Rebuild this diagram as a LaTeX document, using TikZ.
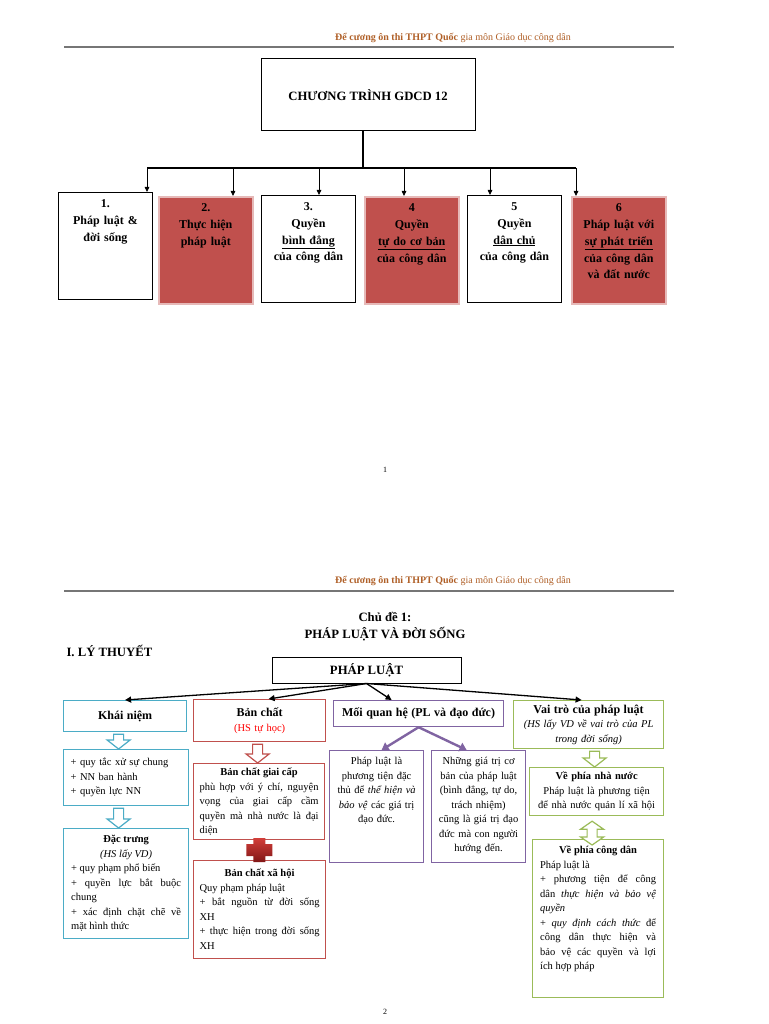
\documentclass[tikz,border=0pt]{standalone}
\usepackage{fontspec}
\setmainfont{Liberation Serif}
\usetikzlibrary{arrows.meta,calc}

\definecolor{headbrown}{RGB}{176,96,40}
\definecolor{boxred}{RGB}{192,80,77}
\definecolor{boxcyan}{RGB}{75,172,198}
\definecolor{boxpurple}{RGB}{128,100,162}
\definecolor{boxgreen}{RGB}{155,187,89}
\definecolor{rulegray}{RGB}{118,118,118}
\definecolor{crosslight}{RGB}{210,62,58}
\definecolor{crossdark}{RGB}{128,22,22}

\newcommand{\bodysize}{\fontsize{10.5}{14.5}\selectfont}
\newcommand{\titlesize}{\fontsize{12}{16.8}\selectfont\bfseries}
\newcommand{\pagetitlesize}{\fontsize{12.7}{16.8}\selectfont\bfseries}
\newcommand{\headersize}{\fontsize{10}{12}\selectfont}

\hyphenpenalty=10000
\exhyphenpenalty=10000
\tolerance=10000

% hollow block arrow pointing down, from one box to the next
\newcommand{\hollowdown}[4]{%
  \draw[#1, line width=1.2pt, fill=white]
    let \p1=(#2.south), \p2=(#3.north) in
    ({\x1+(#4)-5pt},{\y1-2pt}) -- ({\x1+(#4)+5pt},{\y1-2pt})
    -- ({\x1+(#4)+5pt},{\y2+9pt}) -- ({\x1+(#4)+11.5pt},{\y2+9pt})
    -- ({\x1+(#4)},{\y2}) -- ({\x1+(#4)-11.5pt},{\y2+9pt})
    -- ({\x1+(#4)-5pt},{\y2+9pt}) -- cycle;}

% hollow block arrow with two heads
\newcommand{\hollowboth}[4]{%
  \draw[#1, line width=1.2pt, fill=white]
    let \p1=(#2.south), \p2=(#3.north) in
    ({\x1+(#4)},{\y1-5pt}) -- ({\x1+(#4)+11.5pt},{\y1-13pt})
    -- ({\x1+(#4)+5pt},{\y1-13pt}) -- ({\x1+(#4)+5pt},{\y2+2pt})
    -- ({\x1+(#4)+11.5pt},{\y2+2pt}) -- ({\x1+(#4)},{\y2-6pt})
    -- ({\x1+(#4)-11.5pt},{\y2+2pt}) -- ({\x1+(#4)-5pt},{\y2+2pt})
    -- ({\x1+(#4)-5pt},{\y1-13pt}) -- ({\x1+(#4)-11.5pt},{\y1-13pt}) -- cycle;}

% plus sign between two boxes
\newcommand{\redcross}[2]{%
  \path[top color=crosslight, bottom color=crossdark]
    let \p1=($(#1.south)!0.5!(#2.north)$) in
    ({\x1-6pt},{\y1+12pt}) -- ({\x1+6pt},{\y1+12pt}) -- ({\x1+6pt},{\y1+6pt})
    -- ({\x1+13pt},{\y1+6pt}) -- ({\x1+13pt},{\y1-6pt}) -- ({\x1+6pt},{\y1-6pt})
    -- ({\x1+6pt},{\y1-12pt}) -- ({\x1-6pt},{\y1-12pt}) -- ({\x1-6pt},{\y1-6pt})
    -- ({\x1-13pt},{\y1-6pt}) -- ({\x1-13pt},{\y1+6pt}) -- ({\x1-6pt},{\y1+6pt}) -- cycle;}

\begin{document}
\begin{tikzpicture}[x=1pt, y=-1pt,
    header/.style={text=headbrown, font=\headersize, inner sep=0pt},
    pagebox/.style={draw, line width=0.9pt, anchor=north west, text width=86pt,
      inner xsep=4pt, inner ysep=5pt, align=center, font=\titlesize,
      text height=10pt, text depth=87pt},
    redbox/.style={pagebox, fill=boxred, draw=boxred!40, line width=1.6pt},
    drop/.style={line width=0.8pt, -{Triangle[length=5pt,width=4.5pt]}},
    cbox/.style={draw, line width=1.2pt, anchor=north west, align=center,
      inner xsep=5pt, inner ysep=2pt, font=\bodysize},
    tbox/.style={cbox, inner ysep=4pt, text height=10pt},
    link/.style={line width=1.3pt, -{Triangle[length=6pt,width=6pt]}},
    bond/.style={boxpurple, line width=2.4pt, -{Triangle[length=7pt,width=9pt]}}]

\fill[white] (0,0) rectangle (768,1024);
\useasboundingbox (0,0) rectangle (768,1024);

% page 1
\node[header] (head1) at (453,38) {\textbf{Để cương ôn thi THPT Quốc} gia môn Giáo dục công dân};
\draw[rulegray, line width=1.8pt] (64,47) -- (674,47);

\node[draw, line width=1pt, minimum width=214pt, minimum height=72pt, font=\pagetitlesize] (prog) at (368,95) {CHƯƠNG TRÌNH GDCD 12};

\node[pagebox] (t1) at (58,192) {1.\\Pháp luật \&\\đời sống};
\node[redbox] (t2) at (158,196) {2.\\Thực hiện\\pháp luật};
\node[pagebox] (t3) at (261,195) {3.\\Quyền\\\underline{bình đẳng}\\của công dân};
\node[redbox] (t4) at (364,196) {4\\Quyền\\\underline{tự do cơ bản}\\của công dân};
\node[pagebox] (t5) at (467,195) {5\\Quyền\\\underline{dân chủ}\\của công dân};
\node[redbox] (t6) at (571,196) {6\\Pháp luật với\\\underline{sự phát triển}\\của công dân\\và đất nước};

\coordinate (busL) at (147,168);
\coordinate (busR) at (576,168);
\coordinate (stem) at (363,131);
\draw[line width=1.8pt] (stem) -- (stem |- busL);
\draw[line width=1.8pt] (busL) -- (busR);
\foreach \bx/\bn in {147/t1,233/t2,319/t3,404/t4,490/t5,576/t6}
    \draw[drop] (\bx,168) -- (\bx,0 |- \bn.north);

\node[font=\fontsize{8}{9}\selectfont] (pg1) at (385,470) {1};

% page 2
\node[header] (head2) at (453,581) {\textbf{Để cương ôn thi THPT Quốc} gia môn Giáo dục công dân};
\draw[rulegray, line width=1.8pt] (64,591) -- (674,591);

\node[font=\pagetitlesize] (topic) at (385,617) {Chủ đề 1:};
\node[font=\pagetitlesize] (topicname) at (385,634) {PHÁP LUẬT VÀ ĐỜI SỐNG};
\node[font=\pagetitlesize, anchor=west] (theory) at (63,651) {I. LÝ THUYẾT};
\node[draw, line width=1pt, minimum width=189pt, minimum height=26pt, font=\pagetitlesize] (pl) at (366.5,670) {PHÁP LUẬT};

\node[cbox, draw=boxcyan, text width=113pt, minimum height=31pt] (kn) at (63,700) {{\titlesize Khái niệm}};
\node[cbox, draw=boxred, text width=122pt, minimum height=42pt] (bc) at (193,699) {{\titlesize Bản chất}\\{\color{red}(HS tự học)}};
\node[cbox, draw=boxpurple, text width=160pt, minimum height=26pt] (mqh) at (333,700) {{\titlesize Mối quan hệ (PL và đạo đức)}};
\node[cbox, draw=boxgreen, text width=140pt, minimum height=48pt] (vt) at (513,700) {{\titlesize Vai trò của pháp luật}\\\textit{(HS lấy VD về vai trò của PL}\\\textit{trong đời sống)}};

\node[cbox, draw=boxcyan, align=left, inner xsep=7pt, text width=111pt, minimum height=56pt] (knlist) at (63,749) {+ quy tắc xử sự chung\\+ NN ban hành\\+ quyền lực NN};
\node[cbox, draw=boxcyan, align=justify, inner xsep=7.5pt, text width=110pt, minimum height=110pt] (dt) at (63,828) {{\centering\bfseries Đặc trưng\par\mdseries\itshape (HS lấy VD)\par}+ quy phạm phổ biến\par+ quyền lực bắt buộc\linebreak chung\par+ xác định chặt chẽ về\linebreak mặt hình thức};

\node[cbox, draw=boxred, align=justify, inner xsep=6pt, text width=119pt, minimum height=76pt] (bcgc) at (193,763) {{\centering\bfseries Bản chất giai cấp\par}phù hợp với ý chí, nguyện\linebreak vọng của giai cấp cầm\linebreak quyền mà nhà nước là đại\linebreak diện};
\node[tbox, draw=boxred, align=justify, inner xsep=6pt, text width=120pt, inner ysep=5pt, text height=11pt, text depth=77pt] (bcxh) at (193,860) {{\centering\bfseries Bản chất xã hội\par}Quy phạm pháp luật\par+ bắt nguồn từ đời sống\linebreak XH\par+ thực hiện trong đời sống\linebreak XH};

\node[tbox, draw=boxpurple, inner xsep=4pt, text width=86pt, text depth=94pt] (plL) at (329,750) {Pháp luật là\\phương tiện đặc\\thủ để \textit{thể hiện và}\\\textit{bảo vệ} các giá trị\\đạo đức.};
\node[tbox, draw=boxpurple, inner xsep=4pt, text width=86pt, text depth=94pt] (plR) at (431,750) {Những giá trị cơ\\bản của pháp luật\\(bình đẳng, tự do,\\trách nhiệm)\\cũng là giá trị đạo\\đức mà con người\\hướng đến.};

\node[cbox, draw=boxgreen, text width=124pt, minimum height=48pt] (nn) at (529,767) {{\bfseries Về phía nhà nước}\\Pháp luật là phương tiện\\để nhà nước quản lí xã hội};
\node[tbox, draw=boxgreen, align=justify, inner xsep=7.5pt, text width=116pt, text depth=140pt] (cd) at (532,839) {{\centering\bfseries Về phía công dân\par}Pháp luật là\par+ phương tiện để công\linebreak dân \textit{thực hiện và bảo vệ}\linebreak\textit{quyền}\par+ \textit{quy định cách thức} để\linebreak công dân thực hiện và\linebreak bảo vệ các quyền và lợi\linebreak ích hợp pháp};

\draw[link] (pl.south) -- (kn.north);
\draw[link] (pl.south) -- ($(bc.north)+(9,0)$);
\draw[link] (pl.south) -- ($(mqh.north)+(-27,0)$);
\draw[link] (pl.south) -- ($(vt.north)+(-7,0)$);
\draw[bond] (mqh.south) -- ($(plL.north)+(5,0)$);
\draw[bond] (mqh.south) -- ($(plR.north)+(-12,0)$);

\hollowdown{boxcyan}{kn}{knlist}{-6.5pt}
\hollowdown{boxcyan}{knlist}{dt}{-7.5pt}
\hollowdown{boxred}{bc}{bcgc}{-2pt}
\hollowdown{boxgreen}{vt}{nn}{6pt}
\hollowboth{boxgreen}{nn}{cd}{-4.5pt}
\redcross{bcgc}{bcxh}

\node[font=\fontsize{8}{9}\selectfont] (pg2) at (385,1012) {2};
\end{tikzpicture}
\end{document}
